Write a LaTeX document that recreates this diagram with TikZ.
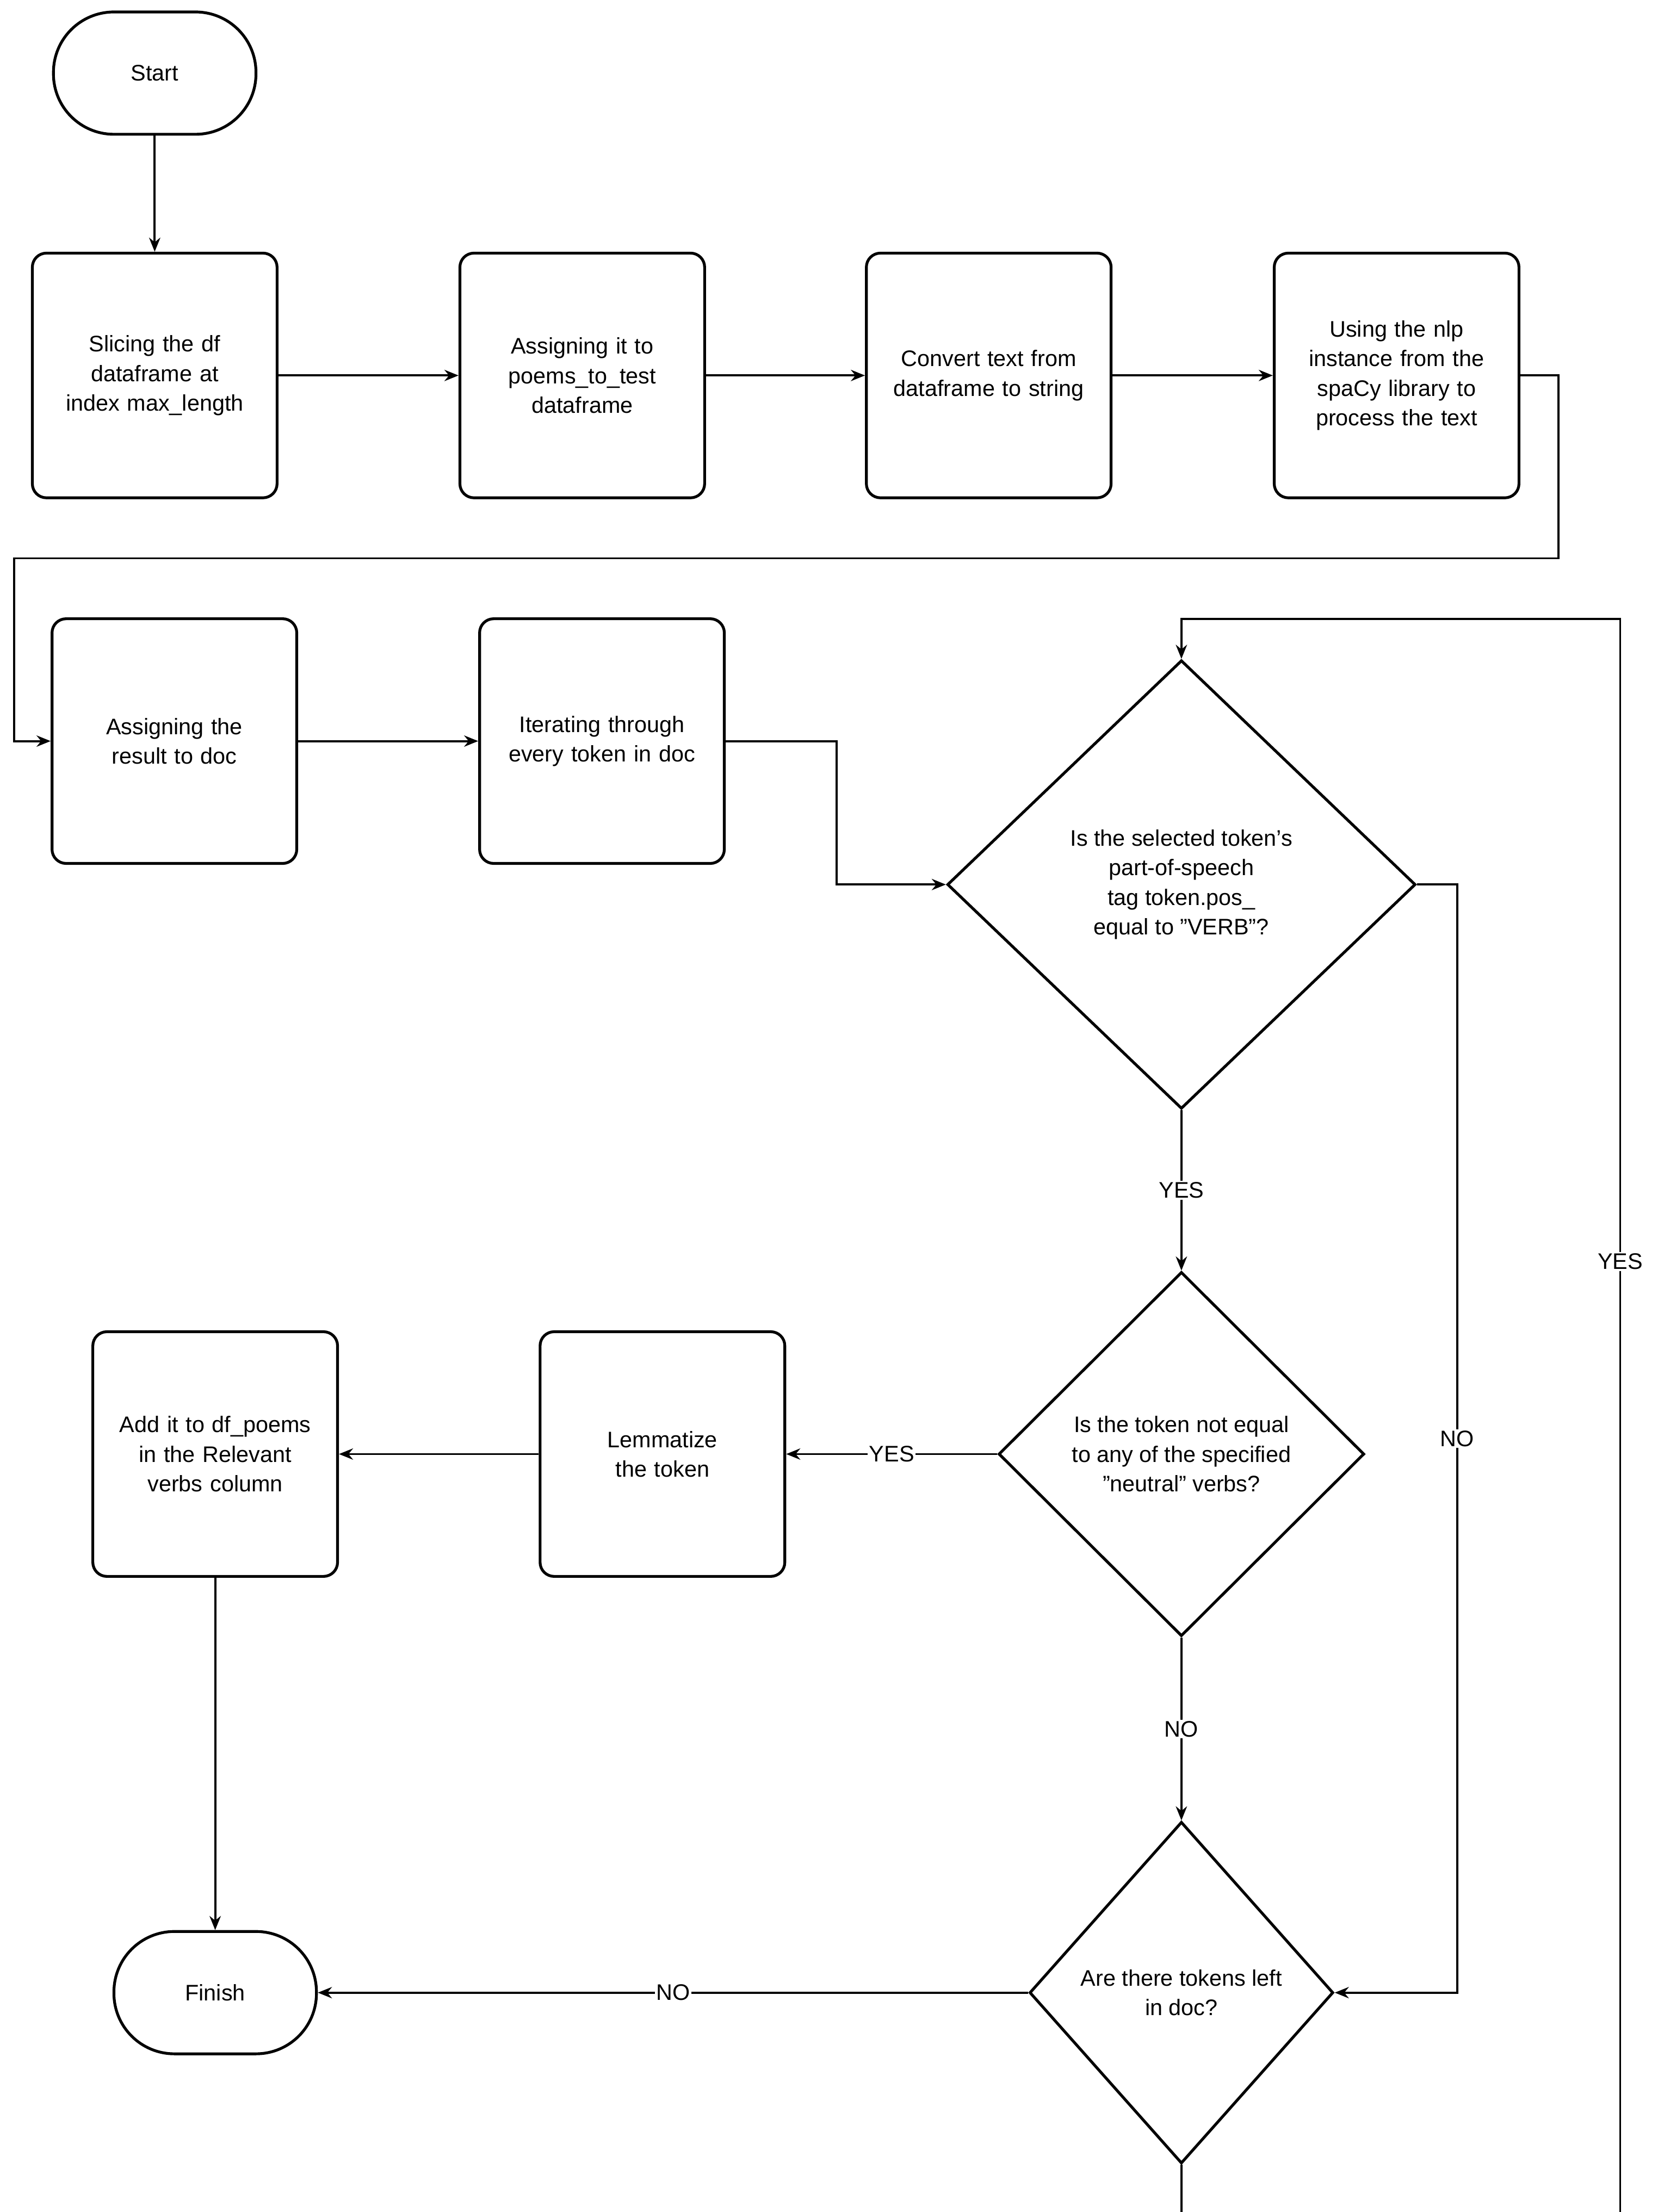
\documentclass[tikz,border=0pt]{standalone}
\usepackage{fontspec}
\setmainfont{Liberation Sans}
\usetikzlibrary{shapes.geometric,arrows.meta}
\begin{document}
\begin{tikzpicture}[x=1pt,y=-1pt,
  every node/.style={font=\fontsize{16}{21}\selectfont},
  box/.style={draw,line width=2pt,rounded corners=10pt,minimum width=174pt,minimum height=174pt,text width=150pt,align=center,inner sep=0pt},
  term/.style={draw,line width=2pt,rounded corners=43pt,minimum width=144pt,minimum height=87pt,inner sep=0pt},
  dia/.style={draw,line width=2pt,diamond,inner sep=0pt,align=center},
  lab/.style={fill=white,inner sep=1pt},
  arr/.style={line width=1.5pt,-{Stealth[length=10pt,width=8pt]}}]
\useasboundingbox (0,0) rectangle (1183,1573);
\node[term] (start) at (110,52) {Start};
\node[box] (b1) at (110,267) {Slicing the df dataframe at index max\_length};
\node[box] (b2) at (414,267) {Assigning it to poems\_to\_test dataframe};
\node[box] (b3) at (703,267) {Convert text from dataframe to string};
\node[box] (b4) at (993,267) {Using the nlp instance from the spaCy library to process the text};
\node[box] (b5) at (124,527) {Assigning the result to doc};
\node[box] (b6) at (428,527) {Iterating through every token in doc};
\node[dia,minimum width=333pt,minimum height=319pt,aspect=1.04] (d1) at (840,629) {Is the selected token's\\part-of-speech\\tag token.pos\_\\equal to "VERB"?};
\node[dia,minimum width=260pt,minimum height=259pt] (d2) at (840,1034) {Is the token not equal\\to any of the specified\\"neutral" verbs?};
\node[box] (b7) at (471,1034) {Lemmatize the token};
\node[box] (b8) at (153,1034) {Add it to df\_poems in the Relevant verbs column};
\node[term] (fin) at (153,1417) {Finish};
\node[dia,minimum width=216pt,minimum height=243pt,aspect=0.89] (d3) at (840,1417) {Are there tokens left\\in doc?};
\coordinate (c1) at (1108,267);
\coordinate (c2) at (1108,397);
\coordinate (c3) at (10,397);
\coordinate (c4) at (10,527);
\draw[arr] (start) -- (b1);
\draw[arr] (b1) -- (b2);
\draw[arr] (b2) -- (b3);
\draw[arr] (b3) -- (b4);
\draw[arr] (b4.east) -- (c1) -- (c2) -- (c3) -- (c4) -- (b5.west);
\draw[arr] (b5) -- (b6);
\draw[arr] (b6.east) -- (595,527) -- (595,629) -- (d1.west);
\draw[arr] (d1.south) -- node[lab]{YES} (d2.north);
\draw[arr] (d2.west) -- node[lab]{YES} (b7.east);
\draw[arr] (b7) -- (b8);
\draw[arr] (b8) -- (fin);
\draw[arr] (d2.south) -- node[lab,pos=0.5]{NO} (d3.north);
\draw[arr] (d3.west) -- node[lab]{NO} (fin.east);
\draw[arr] (d1.east) -- (1036,629) -- node[lab]{NO} (1036,1417) -- (d3.east);
\draw[arr] (d3.south) -- (840,1583) -- (1152,1583) -- node[lab,pos=0.6]{YES} (1152,440) -- (840,440) -- (d1.north);
\end{tikzpicture}
\end{document}
